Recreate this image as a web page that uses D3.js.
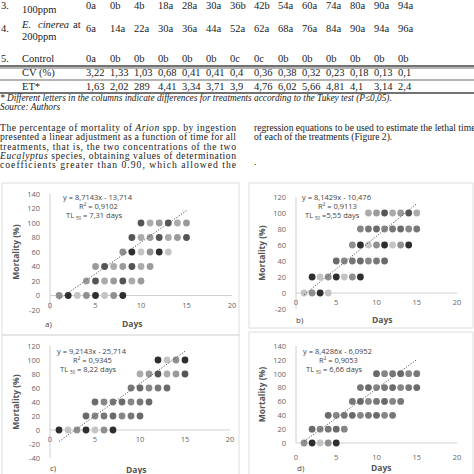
<!DOCTYPE html>
<html><head><meta charset="utf-8">
<script src="https://cdn.jsdelivr.net/npm/d3@7"></script>
<style>body{margin:0;background:#fff}svg{display:block}</style>
</head><body>
<svg id="c" width="474" height="474"></svg>
<script>
// ---- table data ----
const row3 = ["0a","0b","4b","18a","28a","30a","36b","42b","54a","60a","74a","80a","90a","94a"];
const row4 = ["6a","14a","22a","30a","36a","44a","52a","62a","68a","76a","84a","90a","94a","96a"];
const row5 = ["0a","0b","0b","0b","0b","0b","0c","0c","0b","0b","0b","0b","0b","0b"];
const cvRow = ["3,22","1,33","1,03","0,68","0,41","0,41","0,4","0,36","0,38","0,32","0,23","0,18","0,13","0,1"];
const etRow = ["1,63","2,02","289","4,41","3,34","3,71","3,9","4,76","6,02","5,66","4,81","4,1","3,14","2,4"];
// ---- chart data: [day, mortality] ----
const ptsA = [[1,0],[2,0],[3,0],[4,0],[5,0],[6,0],[7,0],[8,0],[4,20],[5,20],[6,20],[7,20],[8,20],[9,20],[10,20],
 [5,40],[6,40],[7,40],[8,40],[9,40],[10,40],[11,40],[8,60],[9,60],[10,60],[11,60],[12,60],[13,60],
 [9,80],[10,80],[11,80],[12,80],[13,80],[14,80],[15,80],[10,100],[11,100],[12,100],[13,100],[14,100],[15,100]];
const ptsB = [[1,0],[2,0],[3,0],[4,0],[2,20],[3,20],[4,20],[5,20],[6,20],[7,20],[8,20],
 [5,40],[6,40],[7,40],[8,40],[9,40],[10,40],[11,40],[7,60],[8,60],[9,60],[10,60],[11,60],[12,60],[13,60],[14,60],
 [8,80],[9,80],[10,80],[11,80],[12,80],[13,80],[14,80],[15,80],[9,100],[10,100],[11,100],[12,100],[13,100],[14,100],[15,100]];
const ptsC = [[1,0],[2,0],[3,0],[4,0],[5,0],[6,0],[7,0],[4,20],[5,20],[6,20],[7,20],[8,20],[9,20],[10,20],
 [5,40],[6,40],[7,40],[8,40],[9,40],[10,40],[11,40],[9,60],[10,60],[11,60],[12,60],[13,60],
 [10,80],[11,80],[12,80],[13,80],[14,80],[15,80],[12,100],[13,100],[14,100],[15,100]];
const ptsD = [[1,0],[2,0],[3,0],[4,0],[5,0],[2,20],[3,20],[4,20],[5,20],[6,20],
 [4,40],[5,40],[6,40],[7,40],[8,40],[9,40],[10,40],[11,40],[12,40],[7,60],[8,60],[9,60],[10,60],[11,60],[12,60],[13,60],
 [8,80],[9,80],[10,80],[11,80],[12,80],[13,80],[14,80],[15,80],[10,100],[11,100],[12,100],[13,100],[14,100],[15,100]];
const slopes = [8.7143, 8.1429, 9.2143, 8.4286];
const intercepts = [-13.714, -10.476, -25.714, -6.0952];
const eqText = ["y = 8,7143x - 13,714","y = 8,1429x - 10,476","y = 9,2143x - 25,714","y = 8,4286x - 6,0952"];
const r2Text = ["R² = 0,9102","R² = 0,9113","R² = 0,9345","R² = 0,9053"];
const tlText = ["7,31 days","=5,55 days","8,22 days","6,66 days"];
const tlPrefix = ["= ","",  "= ","= "];
const panelLabels = ["a)","b)","c)","d)"];
const yTicksA = [-20,0,20,40,60,80,100,120,140];
const yTicksB = [-20,0,20,40,60,80,100,120];
const yTicksC = [-40,-20,0,20,40,60,80,100,120];
const yTicksD = [0,20,40,60,80,100,120,140];
const xTicks = [0,5,10,15,20];
const greys = ["#6a6a6a","#8f8f8f","#ababab","#777777","#c4c4c4","#555555","#868686","#2e2e2e","#9a9a9a"];

const svg = d3.select("#c");
const serif = "Liberation Serif, DejaVu Serif, serif";
const sans = "Open Sans, Liberation Sans, sans-serif";

// ---- table ----
const colX = d3.scalePoint().domain(d3.range(14)).range([86,398]);
function row(vals,y){ svg.append("g").selectAll("text").data(vals).join("text")
  .attr("x",(d,i)=>colX(i)).attr("y",y).text(d=>d)
  .attr("font-family",serif).attr("font-size",10.5).attr("fill","#222"); }
row(row3,9); row(row4,32); row(row5,62); row(cvRow,76); row(etRow,90);
const tx = (x,y,t,o={})=>svg.append("text").attr("x",x).attr("y",y).text(t)
  .attr("font-family",o.f||serif).attr("font-size",o.s||10.5).attr("fill",o.c||"#222")
  .attr("font-style",o.i?"italic":null).attr("font-weight",o.b?"bold":null).attr("text-anchor",o.a||null);
tx(1,9,"3."); tx(22,13,"100ppm");
tx(1,32,"4."); tx(22,28,"E.",{i:1}); tx(38,28,"cinerea",{i:1}); tx(73,28,"at"); tx(22,40,"200ppm");
tx(1,62,"5."); tx(22,62,"Control"); tx(22,76,"CV (%)"); tx(22,90,"ET*");
[[66,1.3],[68,0.8],[80,0.8],[93,1.3]].forEach(([y,w])=>svg.append("line").attr("x1",0).attr("x2",474).attr("y1",y).attr("y2",y).attr("stroke","#444").attr("stroke-width",w));
tx(0,101,"* Different letters in the columns indicate differences for treatments according to the Tukey test (P≤0,05).",{i:1,s:9.3});
tx(0,110,"Source: Authors",{i:1,s:9.3});
const para = [
 [["The percentage of mortality of ",0],["Arion",1],[" spp. by ingestion",0]],
 [["presented a linear adjustment as a function of time for all",0]],
 [["treatments, that is, the two concentrations of the two",0]],
 [["Eucalyptus",1],[" species, obtaining values of determination",0]],
 [["coefficients greater than 0.90, which allowed the",0]]];
para.forEach((segs,i)=>{
  const t=svg.append("text").attr("x",0).attr("y",131+i*9.3).attr("font-family",serif).attr("font-size",9.6).attr("fill","#222")
    .attr("textLength",236).attr("lengthAdjust","spacing");
  segs.forEach(s=>t.append("tspan").attr("font-style",s[1]?"italic":null).text(s[0]));
});
tx(254,131,"regression equations to be used to estimate the lethal time",{s:9.6});
tx(254,140.3,"of each of the treatments (Figure 2).",{s:9.6});
tx(254,165,".",{s:9.6});

// ---- panels ----
svg.append("rect").attr("x",2).attr("y",183).attr("width",237).attr("height",152).attr("fill","none").attr("stroke","#ddd");
svg.append("rect").attr("x",249).attr("y",183).attr("width",224).attr("height",145).attr("fill","none").attr("stroke","#ddd");
svg.append("rect").attr("x",2).attr("y",335).attr("width",237).attr("height",145).attr("fill","none").attr("stroke","#ddd");
svg.append("rect").attr("x",249).attr("y",332).attr("width",224).attr("height",145).attr("fill","none").attr("stroke","#ddd");

const panels = [
 {pts:ptsA,yt:yTicksA,x0:50,x1:232,y0:310,y1:194,eqx:63,eqy:200,lab:[45,327],days:[122,327]},
 {pts:ptsB,yt:yTicksB,x0:296,x1:457,y0:309,y1:197,eqx:302,eqy:200,lab:[296,323],days:[372,323]},
 {pts:ptsC,yt:yTicksC,x0:50,x1:230,y0:458,y1:346,eqx:57,eqy:354,lab:[50,471],days:[126,473]},
 {pts:ptsD,yt:yTicksD,x0:296,x1:457,y0:443,y1:346,eqx:303,eqy:354,lab:[297,471],days:[371,471]}
];
panels.forEach((p,k)=>{
  const x = d3.scaleLinear().domain([0,20]).range([p.x0,p.x1]);
  const y = d3.scaleLinear().domain([p.yt[0],p.yt[p.yt.length-1]]).range([p.y0,p.y1]);
  const g = svg.append("g").attr("font-family",sans);
  g.append("line").attr("x1",x(0)).attr("x2",x(0)).attr("y1",y.range()[0]).attr("y2",y.range()[1]).attr("stroke","#d0d0d0");
  g.append("line").attr("x1",x(0)).attr("x2",x(20)).attr("y1",y(0)).attr("y2",y(0)).attr("stroke","#d0d0d0");
  g.selectAll(".yt").data(p.yt).join("text").attr("x",x(0)-10).attr("y",d=>y(d)+2.8).attr("text-anchor","end")
    .attr("font-size",7.5).attr("fill","#666").text(d=>d);
  g.selectAll(".xt").data(xTicks).join("text").attr("x",d=>x(d)).attr("y",y(0)+(k==3?17:12)).attr("text-anchor","middle")
    .attr("font-size",7.5).attr("fill","#666").text(d=>d);
  g.selectAll("circle").data(p.pts).join("circle").attr("cx",d=>x(d[0])).attr("cy",d=>y(d[1])).attr("r",3.4)
    .attr("fill",(d,i)=>greys[(i*5+k*3+d[0])%greys.length]);
  g.append("line").attr("x1",x(1)).attr("y1",y(slopes[k]+intercepts[k])).attr("x2",x(15)).attr("y2",y(slopes[k]*15+intercepts[k]))
    .attr("stroke","#555").attr("stroke-width",1).attr("stroke-dasharray","1.2,1.6");
  g.append("text").attr("x",p.eqx).attr("y",p.eqy).attr("font-size",7.5).attr("fill","#444").text(eqText[k]);
  g.append("text").attr("x",p.eqx+16).attr("y",p.eqy+9).attr("font-size",7.5).attr("fill","#444").text(r2Text[k]);
  const t = g.append("text").attr("x",p.eqx+3).attr("y",p.eqy+18).attr("font-size",7.5).attr("fill","#444");
  t.append("tspan").text("TL ");
  t.append("tspan").attr("font-size",4.5).attr("dy",1.5).text("50");
  t.append("tspan").attr("dy",-1.5).text(" "+tlPrefix[k]+tlText[k]);
  const cy=(p.y0+p.y1)/2;
  g.append("text").attr("transform",`translate(${p.x0-31},${cy}) rotate(-90)`).attr("text-anchor","middle")
    .attr("font-size",8.5).attr("font-weight","bold").attr("fill","#555").text("Mortality (%)");
  g.append("text").attr("x",p.lab[0]).attr("y",p.lab[1]).attr("font-size",8).attr("fill","#444").text(panelLabels[k]);
  g.append("text").attr("x",p.days[0]).attr("y",p.days[1]).attr("font-size",8.5).attr("font-weight","bold").attr("fill","#555").text("Days");
});
</script>
</body></html>
